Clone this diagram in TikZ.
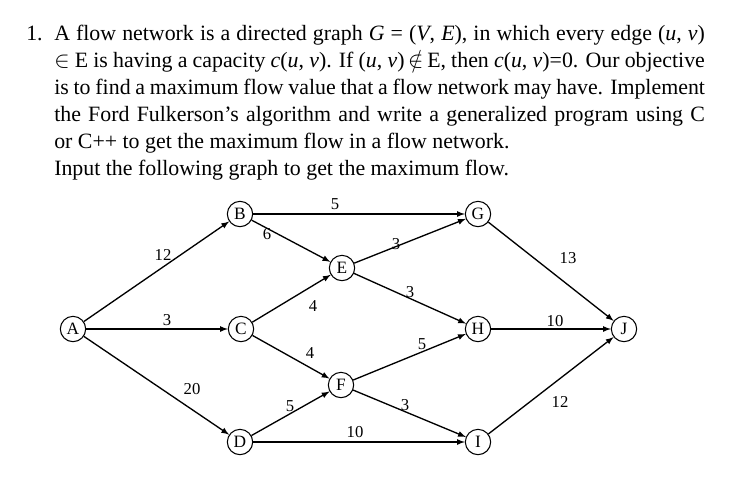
\documentclass[tikz,border=0pt]{standalone}
\usepackage{fontspec}
\setmainfont{Liberation Serif}
\begin{document}
\begin{tikzpicture}[x=0.75pt,y=-0.75pt,
  vtx/.style={circle,draw,thick,minimum size=19pt,inner sep=0pt,font=\fontsize{13}{13}\selectfont},
  edge/.style={-latex,line width=1pt},
  lab/.style={font=\fontsize{12.5}{13}\selectfont,inner sep=0pt},
  line/.style={anchor=base west,inner sep=0pt,font=\fontsize{16.4}{18}\selectfont}]
\useasboundingbox (0,0) rectangle (731,497);
\node[line] (n) at (26,40) {1.};
\node[line] (l1) at (54,40) {\makebox[488pt][s]{A flow network is a directed graph \textit{G} = (\textit{V}, \textit{E}), in which every edge (\textit{u}, \textit{v})}};
\node[line] (l2) at (54,67) {\makebox[488pt][s]{$\in$ E is having a capacity \textit{c}(\textit{u}, \textit{v}). If (\textit{u}, \textit{v})\,$\notin$\,E, then \textit{c}(\textit{u}, \textit{v})=0. Our objective}};
\node[line] (l3) at (54,94) {\makebox[488pt][s]{is to find a maximum flow value that a flow network may have. Implement}};
\node[line] (l4) at (54,121) {\makebox[488pt][s]{the Ford Fulkerson’s algorithm and write a generalized program using C}};
\node[line] (l5) at (54,148) {or C++ to get the maximum flow in a flow network.};
\node[line] (l6) at (54,175) {Input the following graph to get the maximum flow.};

\node[vtx] (A) at (73,329) {A};
\node[vtx] (B) at (240,214) {B};
\node[vtx] (C) at (241,329) {C};
\node[vtx] (D) at (240,442) {D};
\node[vtx] (E) at (342,268) {E};
\node[vtx] (F) at (341,385) {F};
\node[vtx] (G) at (478,214) {G};
\node[vtx] (H) at (478,329) {H};
\node[vtx] (I) at (478,442) {I};
\node[vtx] (J) at (624,329) {J};

\draw[edge] (A) -- (B);
\draw[edge] (A) -- (C);
\draw[edge] (A) -- (D);
\draw[edge] (B) -- (G);
\draw[edge] (B) -- (E);
\draw[edge] (C) -- (E);
\draw[edge] (C) -- (F);
\draw[edge] (D) -- (F);
\draw[edge] (D) -- (I);
\draw[edge] (E) -- (G);
\draw[edge] (E) -- (H);
\draw[edge] (F) -- (H);
\draw[edge] (F) -- (I);
\draw[edge] (G) -- (J);
\draw[edge] (H) -- (J);
\draw[edge] (I) -- (J);

\node[lab] (lBG) at (335,204) {5};
\node[lab] (lBE) at (267,234) {6};
\node[lab] (lAB) at (163,255) {12};
\node[lab] (lEG) at (396,244) {3};
\node[lab] (lGJ) at (568,258) {13};
\node[lab] (lEH) at (410,292) {3};
\node[lab] (lCE) at (313,306) {4};
\node[lab] (lAC) at (167,320) {3};
\node[lab] (lHJ) at (555,321) {10};
\node[lab] (lCF) at (310,353) {4};
\node[lab] (lFH) at (422,344) {5};
\node[lab] (lAD) at (192,389) {20};
\node[lab] (lDF) at (290,406) {5};
\node[lab] (lFI) at (405,405) {3};
\node[lab] (lIJ) at (560,402) {12};
\node[lab] (lDI) at (355,432) {10};
\end{tikzpicture}
\end{document}
